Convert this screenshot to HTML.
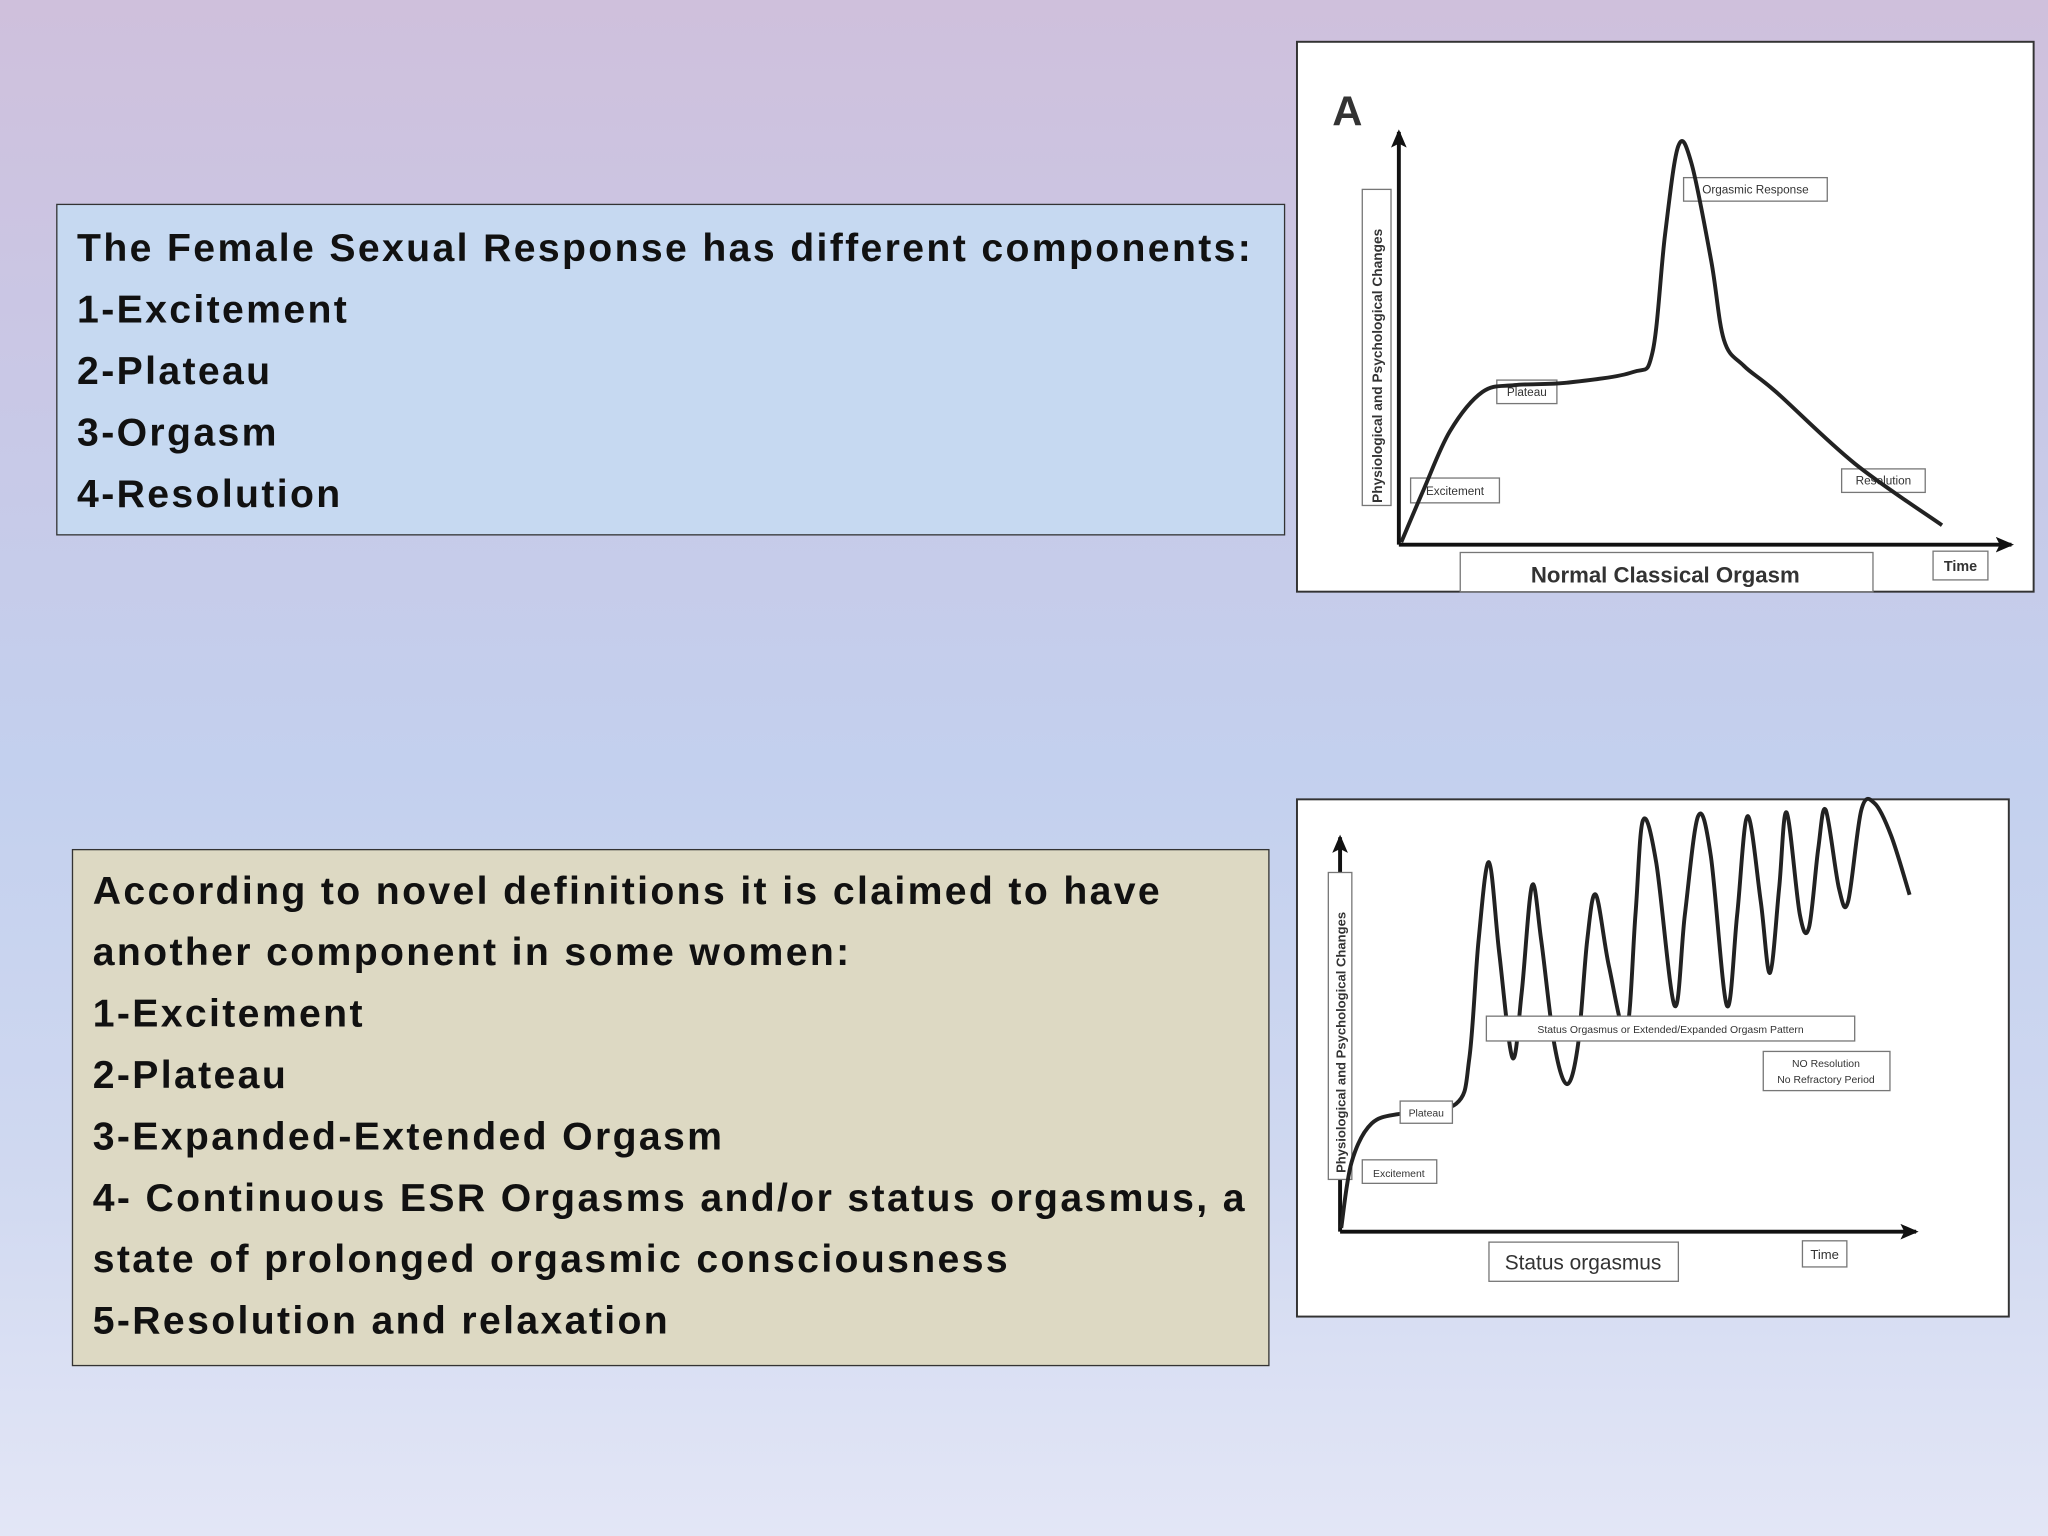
<!DOCTYPE html>
<html><head><meta charset="utf-8">
<style>
html,body{margin:0;padding:0;width:2048px;height:1536px;overflow:hidden}
#wrap{width:1568px;height:1176px;transform:scale(1.30612);transform-origin:0 0;position:relative;
background:linear-gradient(180deg,#cfc0dc 0%,#c9c8e6 25%,#c3d0ee 50%,#cfd8f0 75%,#e3e6f6 100%);font-family:"Liberation Sans",sans-serif}
.box{position:absolute;border:1.5px solid #333;box-sizing:border-box;font-weight:bold;color:#111;font-size:30px;line-height:47px;letter-spacing:1.8px;white-space:nowrap}
#b1{left:43px;top:156px;width:941px;height:254px;background:#c6d9f1;padding:10px 0 0 15px}
#b2{left:55px;top:650px;width:917px;height:396px;background:#ddd9c3;padding:8px 0 0 15px}
svg{position:absolute;left:0;top:0}
</style></head><body>
<div id="wrap">
<div class="box" id="b1">The Female Sexual Response has different components:<br>1-Excitement<br>2-Plateau<br>3-Orgasm<br>4-Resolution</div>
<div class="box" id="b2">According to novel definitions it is claimed to have<br>another component in some women:<br>1-Excitement<br>2-Plateau<br>3-Expanded-Extended Orgasm<br>4- Continuous ESR Orgasms and/or status orgasmus, a<br>state of prolonged orgasmic consciousness<br>5-Resolution and relaxation</div>
<svg width="1568" height="1176" id="svg">
<defs><marker id="ar" markerUnits="userSpaceOnUse" markerWidth="14" markerHeight="12" refX="12" refY="6" orient="auto"><path d="M0,0 L14,6 L0,12 L3,6 z" fill="#111"/></marker></defs>
<g>
<rect x="993" y="32" width="564" height="421" fill="#fff" stroke="#333" stroke-width="1.5"/>
<text x="1020" y="96" font-size="32" font-weight="bold" fill="#333">A</text>
<line x1="1071" y1="417" x2="1071" y2="101" stroke="#111" stroke-width="3" marker-end="url(#ar)"/>
<line x1="1071" y1="417" x2="1540" y2="417" stroke="#111" stroke-width="3" marker-end="url(#ar)"/>
<rect x="1043" y="145" width="22" height="242" fill="#fff" stroke="#777"/>
<text transform="translate(1058,385) rotate(-90)" font-size="10.5" font-weight="bold" fill="#333">Physiological and Psychological Changes</text>
<rect x="1118" y="423" width="316" height="30" fill="#fff" stroke="#777"/>
<text x="1275" y="446" font-size="17" font-weight="bold" text-anchor="middle" fill="#333">Normal Classical Orgasm</text>
<rect x="1480" y="422" width="42" height="22" fill="#fff" stroke="#777"/><text x="1501" y="437" font-size="11" font-weight="bold" text-anchor="middle" fill="#333">Time</text>
<rect x="1080" y="366" width="68" height="19" fill="#fff" stroke="#777"/><text x="1114" y="379" font-size="9" text-anchor="middle" fill="#333">Excitement</text>
<rect x="1146" y="291" width="46" height="18" fill="#fff" stroke="#777"/><text x="1169" y="303" font-size="9" text-anchor="middle" fill="#333">Plateau</text>
<rect x="1289" y="136" width="110" height="18" fill="#fff" stroke="#777"/><text x="1344" y="148" font-size="9" text-anchor="middle" fill="#333">Orgasmic Response</text>
<rect x="1410" y="359" width="64" height="18" fill="#fff" stroke="#777"/><text x="1442" y="371" font-size="9" text-anchor="middle" fill="#333">Resolution</text>
<path id="curveA" fill="none" stroke="#222" stroke-width="3"/>
</g>
<g>
<rect x="993" y="612" width="545" height="396" fill="#fff" stroke="#333" stroke-width="1.5"/>
<line x1="1026" y1="943" x2="1026" y2="641" stroke="#111" stroke-width="3" marker-end="url(#ar)"/>
<line x1="1026" y1="943" x2="1467" y2="943" stroke="#111" stroke-width="3" marker-end="url(#ar)"/>
<rect x="1017" y="668" width="18" height="235" fill="#fff" stroke="#777"/>
<text transform="translate(1030,898) rotate(-90)" font-size="10" font-weight="bold" fill="#333">Physiological and Psychological Changes</text>
<rect x="1140" y="951" width="145" height="30" fill="#fff" stroke="#777"/>
<text x="1212" y="972" font-size="16" text-anchor="middle" fill="#333">Status orgasmus</text>
<rect x="1380" y="950" width="34" height="20" fill="#fff" stroke="#777"/><text x="1397" y="964" font-size="10" text-anchor="middle" fill="#333">Time</text>
<rect x="1043" y="888" width="57" height="18" fill="#fff" stroke="#777"/><text x="1071" y="901" font-size="8" text-anchor="middle" fill="#333">Excitement</text>
<path id="curveB" fill="none" stroke="#222" stroke-width="3"/>
<rect x="1072" y="843" width="40" height="17" fill="#fff" stroke="#777"/><text x="1092" y="855" font-size="8" text-anchor="middle" fill="#333">Plateau</text>
<rect x="1138" y="778" width="282" height="19" fill="#fff" stroke="#777"/><text x="1279" y="791" font-size="8" text-anchor="middle" fill="#333">Status Orgasmus or Extended/Expanded Orgasm Pattern</text>
<rect x="1350" y="805" width="97" height="30" fill="#fff" stroke="#777"/><text x="1398" y="817" font-size="8" text-anchor="middle" fill="#333">NO Resolution</text><text x="1398" y="829" font-size="8" text-anchor="middle" fill="#333">No Refractory Period</text>
</g>
</svg>
</div>
<script>
const timeA=[0.4,4.1,8.5,13.9,19.3,28,38.9,42.2,44.3,46.5,48.7,52,54.1,57.4,62.8,75.9,90.4];
const levelA=[0.6,13.5,28,37.7,39.4,40,42.6,47.4,76.5,98.4,94.2,70,50.6,44.2,37.7,20,4.8];
const timeB=[0.2,2,5.5,11.1,20.2,22.5,24.1,25.9,27.7,30,31.6,33.4,35,37.3,39.5,41.4,43,44.5,46.8,49.8,51.4,52.7,55,58.2,60,62.3,64.5,67.3,69.1,70.9,73.2,74.8,76.4,77.7,80,81.6,83.2,84.5,86.8,88.4,90.7,93,95.9,99.1];
const levelB=[0.9,16.6,25.9,28.4,30.6,41.6,69.7,88.4,66.6,41.6,57.2,82.8,69.7,44.7,35.3,44.7,69.7,80.6,63.4,47.8,75.9,98.4,88.4,54.1,75.9,99.4,90,54.1,75.9,99.4,79,61.9,82.2,100.3,75.9,72.8,91.6,100.9,82.2,79,100.9,102.5,94.7,80.6];
const xA=t=>1071+t*4.6, yA=v=>417-v*3.1;
const xB=t=>1026+t*4.4, yB=v=>943-v*3.2;
function smooth(p){let d='M'+p[0][0]+','+p[0][1];
for(let i=0;i<p.length-1;i++){const p0=p[Math.max(i-1,0)],p1=p[i],p2=p[i+1],p3=p[Math.min(i+2,p.length-1)];
d+=' C'+(p1[0]+(p2[0]-p0[0])/6)+','+(p1[1]+(p2[1]-p0[1])/6)+' '+(p2[0]-(p3[0]-p1[0])/6)+','+(p2[1]-(p3[1]-p1[1])/6)+' '+p2[0]+','+p2[1];}
return d;}
document.getElementById('curveA').setAttribute('d',smooth(timeA.map((t,i)=>[xA(t),yA(levelA[i])])));
document.getElementById('curveB').setAttribute('d',smooth(timeB.map((t,i)=>[xB(t),yB(levelB[i])])));
</script>
</body></html>
